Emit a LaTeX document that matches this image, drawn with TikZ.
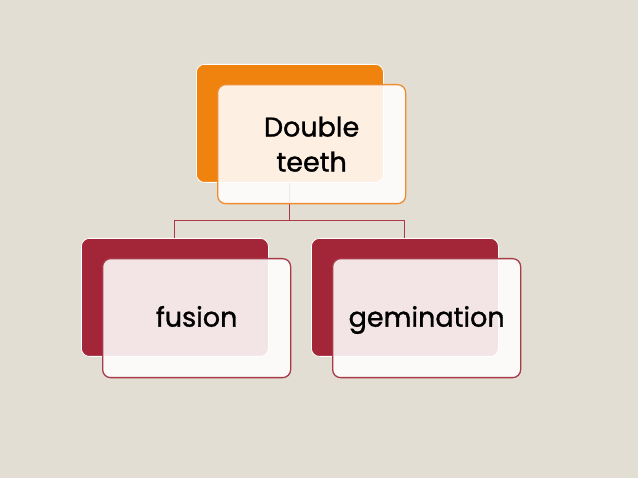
\documentclass[tikz,border=0pt]{standalone}
\usepackage{fontspec}
\setmainfont{Poppins}[FakeBold=1.2]
\begin{document}
\begin{tikzpicture}[x=1pt,y=-1pt,
  backbox/.style={rounded corners=8pt, draw=white, line width=0.8pt, minimum width=187pt, minimum height=118pt, inner sep=0pt, anchor=north west},
  frontbox/.style={rounded corners=8pt, line width=1.3pt, fill=white, fill opacity=0.88, text opacity=1, minimum width=188pt, minimum height=119pt, inner sep=0pt, anchor=north west, font=\fontsize{27}{35}\selectfont, text=black},
  oneline/.style={text height=21pt, text depth=4pt},
  link/.style={draw=linkred, line width=0.9pt}]
\definecolor{bg}{HTML}{E3DED3}
\definecolor{orng}{HTML}{F0820E}
\definecolor{orngline}{HTML}{EE8C30}
\definecolor{dred}{HTML}{A32638}
\definecolor{dredline}{HTML}{A83A48}
\definecolor{linkred}{HTML}{A83A48}
\fill[bg] (0,0) rectangle (638,478);
\useasboundingbox (0,0) rectangle (638,478);
% back boxes
\node[backbox, fill=orng] (tb) at (196,64) {};
\node[backbox, fill=dred] (lb) at (81,238) {};
\node[backbox, fill=dred] (rb) at (311,238) {};
% connectors
\draw[link] (tb.south) -- ++(0,38) coordinate (jm);
\draw[link] (lb.north) |- (jm) -| (rb.north);
% front boxes
\node[frontbox, draw=orngline, align=center] (tf) at (217,84) {Double\\teeth};
\node[frontbox, draw=dredline, oneline] (lf) at (102,258) {fusion};
\node[frontbox, draw=dredline, oneline] (rf) at (332,258) {gemination};
\end{tikzpicture}
\end{document}
